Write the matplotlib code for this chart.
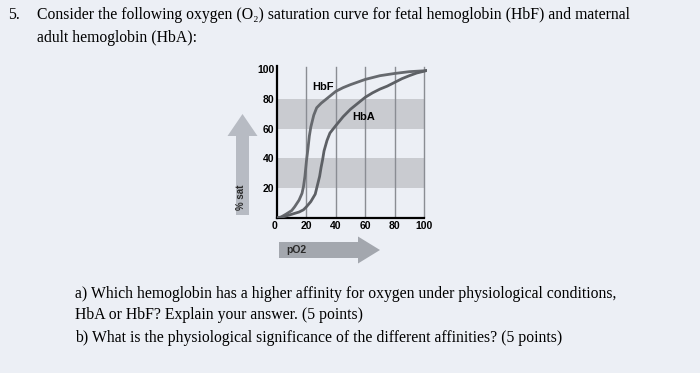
import numpy as np
import matplotlib
matplotlib.use("Agg")
from matplotlib import pyplot as plt
from matplotlib.patches import FancyArrow

# saturation curves (pO2, % sat)
hbf_po2 = [0, 3, 6, 10, 12, 15, 17, 18, 19, 20, 21, 22, 23, 25, 27, 30, 35, 40, 45, 50, 60, 70, 80, 90, 100, 101.8]
hbf_sat = [0, 0.8, 2.5, 5, 7.5, 12, 16.5, 21, 28, 38, 46, 55, 61, 69, 74, 77, 81, 85, 87.5, 89.5, 93, 95.5, 97, 98.2, 98.8, 99]
hba_po2 = [0, 3, 6, 10, 15, 18, 20, 23, 26, 28, 29, 30, 31, 32, 34, 36, 40, 45, 50, 55, 60, 65, 70, 75, 80, 85, 90, 95, 100, 101.8]
hba_sat = [0, 0.5, 1.3, 2.5, 4, 5.5, 7.5, 11, 16, 24, 28, 34, 39, 45, 52, 57, 62, 68, 73, 77, 81, 84, 86.5, 88.5, 91, 93.5, 95.5, 97.3, 98.5, 99]
x_ticks = [0, 20, 40, 60, 80, 100]
y_ticks = [20, 40, 60, 80, 100]
bands = [(20, 40), (60, 80)]

W, H = 700, 373
bg = "#eceff5"
fig = plt.figure(figsize=(W / 100, H / 100), dpi=100, facecolor=bg)


def px(x, y):
    return x / W, 1 - y / H


serif = "Liberation Serif"
fs = 11.3
fig.text(*px(8, 15), "5.", fontsize=fs, family=serif, va="center")
fig.text(*px(37, 15), "Consider the following oxygen (O\u2082) saturation curve for fetal hemoglobin (HbF) and maternal",
         fontsize=fs, family=serif, va="center")
fig.text(*px(37, 38), "adult hemoglobin (HbA):", fontsize=fs, family=serif, va="center")
fig.text(*px(75, 294), "a) Which hemoglobin has a higher affinity for oxygen under physiological conditions,",
         fontsize=fs, family=serif, va="center")
fig.text(*px(75, 315), "HbA or HbF? Explain your answer. (5 points)", fontsize=fs, family=serif, va="center")
fig.text(*px(75, 338), "b) What is the physiological significance of the different affinities? (5 points)",
         fontsize=fs, family=serif, va="center")

# chart axes: x 0 at px 277, 1.47 px/unit; y 0 at px 218, 1.49 px/unit
x0, y0 = 277, 218
xmax, ymax = 102, 102
ax = fig.add_axes([x0 / W, 1 - y0 / H, xmax * 1.47 / W, ymax * 1.49 / H])
ax.set_facecolor("none")
ax.set_xlim(0, xmax)
ax.set_ylim(0, ymax)
for lo, hi in bands:
    ax.fill_between([0, 100], lo, hi, color="#c9cbd0", lw=0, zorder=0)
for t in x_ticks[1:]:
    ax.plot([t, t], [0, 101.5], color="#8a8d93", lw=1.0, zorder=1)
ax.plot(hbf_po2, hbf_sat, color="#66696e", lw=2.0, zorder=3, solid_capstyle="round")
ax.plot(hba_po2, hba_sat, color="#5d6065", lw=2.0, zorder=3, solid_capstyle="round")
for s in ["top", "right"]:
    ax.spines[s].set_visible(False)
ax.spines["left"].set_linewidth(1.6)
ax.spines["bottom"].set_linewidth(1.6)
ax.spines["bottom"].set_bounds(0, 100)
ax.set_xticks(x_ticks)
ax.set_yticks(y_ticks)
ax.tick_params(length=0, pad=2, labelsize=7.5)
for lab in ax.get_xticklabels() + ax.get_yticklabels():
    lab.set_fontweight("bold")
    lab.set_family("Liberation Sans")
ax.get_xticklabels()[0].set_horizontalalignment("right")
ax.text(24, 88, "HbF", fontsize=8, fontweight="bold", family="Liberation Sans", va="center")
ax.text(51, 68, "HbA", fontsize=8, fontweight="bold", family="Liberation Sans", va="center")

# arrows in pixel space
ov = fig.add_axes([0, 0, 1, 1])
ov.set_xlim(0, W)
ov.set_ylim(H, 0)
ov.axis("off")
ov.add_patch(FancyArrow(242.5, 215, 0, -101, width=13, head_width=30, head_length=22,
                        length_includes_head=True, color="#b7bbc3", lw=0))
ov.add_patch(FancyArrow(279, 250, 101, 0, width=16, head_width=27, head_length=22,
                        length_includes_head=True, color="#a3a7ae", lw=0))
ov.text(241, 197, "% sat", rotation=90, fontsize=7, fontweight="bold", family="Liberation Sans",
        ha="center", va="center", color="#2a2a2a")
ov.text(296, 250, "pO2", fontsize=7.5, fontweight="bold", family="Liberation Sans",
        ha="center", va="center", color="#2a2a2a")

fig.savefig("out.png", dpi=100, facecolor=bg)
